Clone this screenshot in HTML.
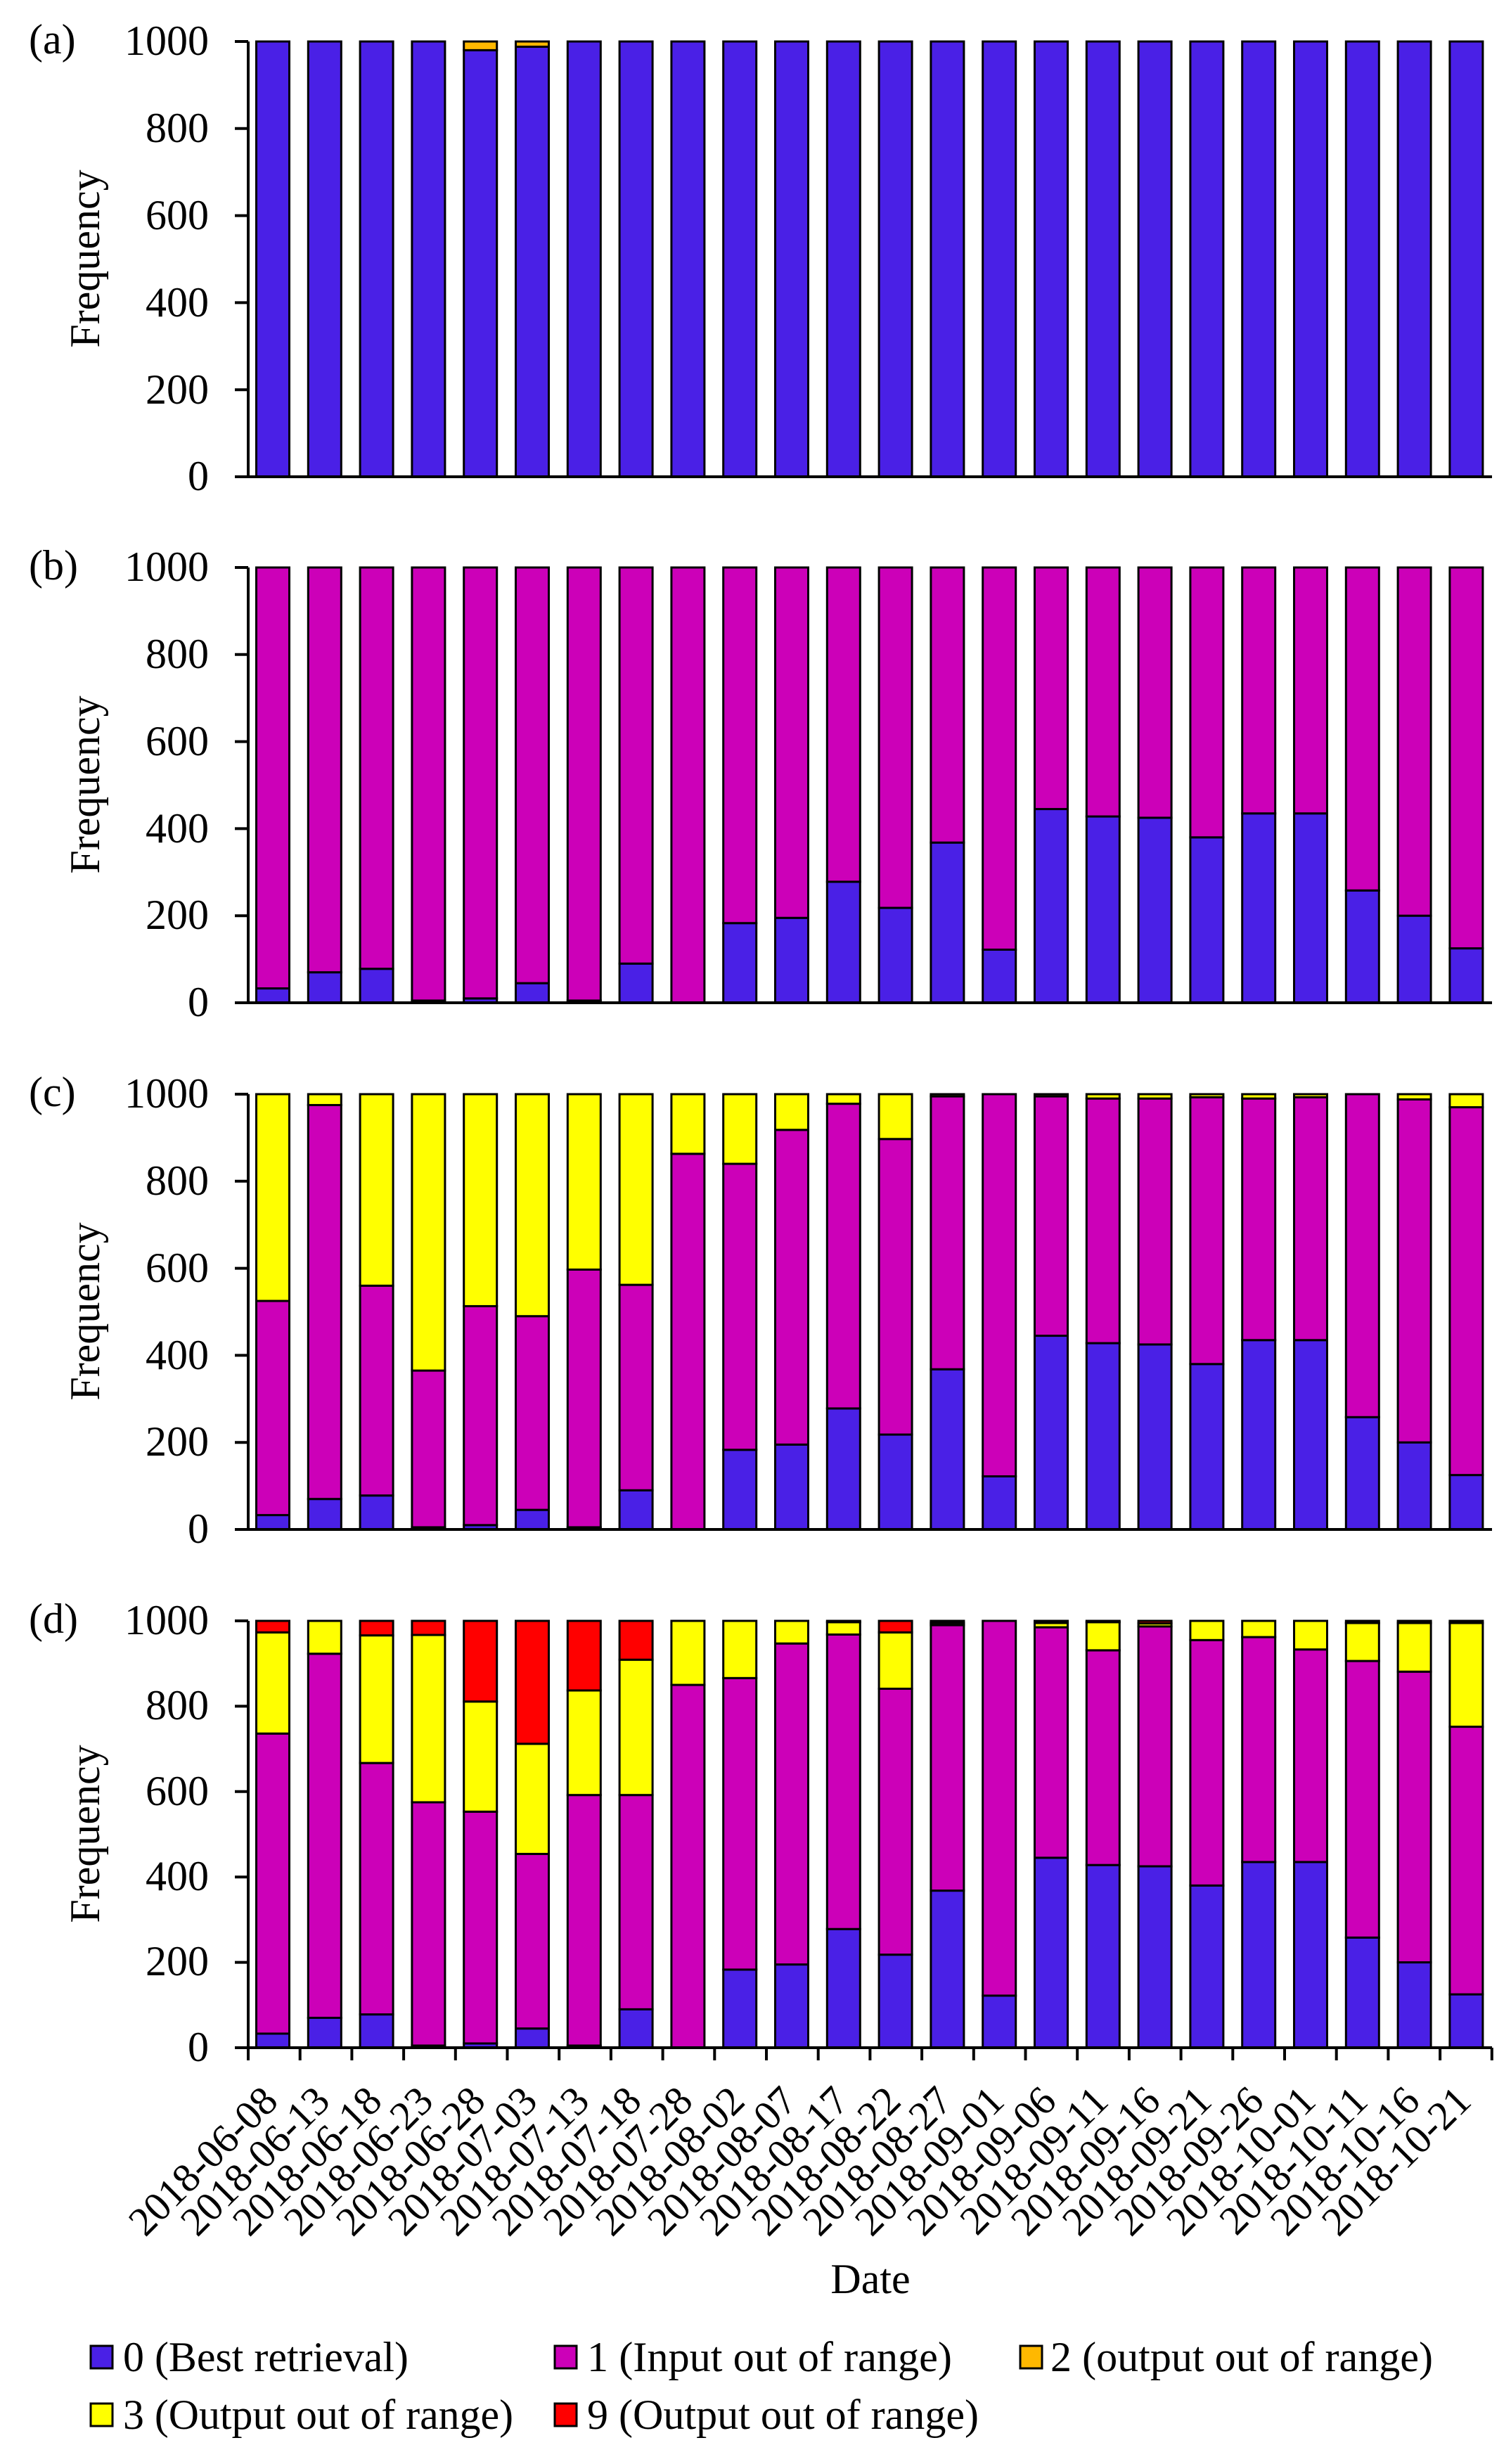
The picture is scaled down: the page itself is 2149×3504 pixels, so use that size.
<!DOCTYPE html>
<html><head><meta charset="utf-8"><style>
html,body{margin:0;padding:0;background:#fff;}
svg{display:block;}
text{font-family:"Liberation Serif",serif;fill:#000;}
</style></head><body>
<svg id="s" width="2149" height="3504" viewBox="0 0 2149 3504" xmlns="http://www.w3.org/2000/svg">
<g id="bars"></g>
<g font-size="60">
<!-- panel a -->
<text x="41" y="76" font-size="60">(a)</text>
<text x="297" y="78" text-anchor="end">1000</text>
<text x="297" y="202" text-anchor="end">800</text>
<text x="297" y="326" text-anchor="end">600</text>
<text x="297" y="450" text-anchor="end">400</text>
<text x="297" y="574" text-anchor="end">200</text>
<text x="297" y="697" text-anchor="end">0</text>
<text transform="translate(141,368) rotate(-90)" text-anchor="middle">Frequency</text>
<!-- panel b -->
<text x="41" y="824" font-size="60">(b)</text>
<text x="297" y="826" text-anchor="end">1000</text>
<text x="297" y="950" text-anchor="end">800</text>
<text x="297" y="1074" text-anchor="end">600</text>
<text x="297" y="1198" text-anchor="end">400</text>
<text x="297" y="1321" text-anchor="end">200</text>
<text x="297" y="1445" text-anchor="end">0</text>
<text transform="translate(141,1116) rotate(-90)" text-anchor="middle">Frequency</text>
<!-- panel c -->
<text x="41" y="1573" font-size="60">(c)</text>
<text x="297" y="1575" text-anchor="end">1000</text>
<text x="297" y="1699" text-anchor="end">800</text>
<text x="297" y="1823" text-anchor="end">600</text>
<text x="297" y="1947" text-anchor="end">400</text>
<text x="297" y="2070" text-anchor="end">200</text>
<text x="297" y="2194" text-anchor="end">0</text>
<text transform="translate(141,1865) rotate(-90)" text-anchor="middle">Frequency</text>
<!-- panel d -->
<text x="41" y="2322" font-size="60">(d)</text>
<text x="297" y="2324" text-anchor="end">1000</text>
<text x="297" y="2445" text-anchor="end">800</text>
<text x="297" y="2567" text-anchor="end">600</text>
<text x="297" y="2688" text-anchor="end">400</text>
<text x="297" y="2809" text-anchor="end">200</text>
<text x="297" y="2931" text-anchor="end">0</text>
<text transform="translate(141,2608) rotate(-90)" text-anchor="middle">Frequency</text>
</g>
<g font-size="58" text-anchor="end">
<text transform="translate(398,2991) rotate(-45)">2018-06-08</text>
<text transform="translate(472,2991) rotate(-45)">2018-06-13</text>
<text transform="translate(546,2991) rotate(-45)">2018-06-18</text>
<text transform="translate(619,2991) rotate(-45)">2018-06-23</text>
<text transform="translate(693,2991) rotate(-45)">2018-06-28</text>
<text transform="translate(767,2991) rotate(-45)">2018-07-03</text>
<text transform="translate(841,2991) rotate(-45)">2018-07-13</text>
<text transform="translate(915,2991) rotate(-45)">2018-07-18</text>
<text transform="translate(988,2991) rotate(-45)">2018-07-28</text>
<text transform="translate(1062,2991) rotate(-45)">2018-08-02</text>
<text transform="translate(1136,2991) rotate(-45)">2018-08-07</text>
<text transform="translate(1210,2991) rotate(-45)">2018-08-17</text>
<text transform="translate(1284,2991) rotate(-45)">2018-08-22</text>
<text transform="translate(1357,2991) rotate(-45)">2018-08-27</text>
<text transform="translate(1431,2991) rotate(-45)">2018-09-01</text>
<text transform="translate(1505,2991) rotate(-45)">2018-09-06</text>
<text transform="translate(1579,2991) rotate(-45)">2018-09-11</text>
<text transform="translate(1653,2991) rotate(-45)">2018-09-16</text>
<text transform="translate(1726,2991) rotate(-45)">2018-09-21</text>
<text transform="translate(1800,2991) rotate(-45)">2018-09-26</text>
<text transform="translate(1874,2991) rotate(-45)">2018-10-01</text>
<text transform="translate(1948,2991) rotate(-45)">2018-10-11</text>
<text transform="translate(2022,2991) rotate(-45)">2018-10-16</text>
<text transform="translate(2095,2991) rotate(-45)">2018-10-21</text>
</g>
<text x="1238" y="3261" font-size="60" text-anchor="middle">Date</text>
<g stroke="#000" stroke-width="3">
<rect x="129" y="3336" width="31" height="32" fill="#4a20e6"/>
<rect x="789" y="3336" width="31" height="32" fill="#cc00b8"/>
<rect x="1451" y="3336" width="31" height="32" fill="#ffb800"/>
<rect x="129" y="3418" width="31" height="32" fill="#ffff00"/>
<rect x="789" y="3418" width="31" height="32" fill="#ff0000"/>
</g>
<g font-size="60">
<text x="175" y="3372" textLength="406" lengthAdjust="spacingAndGlyphs">0 (Best retrieval)</text>
<text x="835" y="3372" textLength="519" lengthAdjust="spacingAndGlyphs">1 (Input out of range)</text>
<text x="1494" y="3372" textLength="544" lengthAdjust="spacingAndGlyphs">2 (output out of range)</text>
<text x="175" y="3454" textLength="555" lengthAdjust="spacingAndGlyphs">3 (Output out of range)</text>
<text x="835" y="3454" textLength="557" lengthAdjust="spacingAndGlyphs">9 (Output out of range)</text>
</g>
</svg>
<script>
(function(){
var NS="http://www.w3.org/2000/svg",g=document.getElementById("bars");
var C=["#4a20e6","#cc00b8","#ffb800","#ffff00","#ff0000"];
var blue=[33,70,78,5,10,45,5,90,0,183,195,278,218,368,122,445,428,425,380,435,435,258,200,125];
var cm=[525,975,560,365,513,490,597,562,863,840,918,978,897,995,1000,995,990,990,993,990,993,1000,988,970];
var dm=[736,923,667,575,553,454,592,592,850,866,947,968,841,990,1000,985,931,987,955,962,933,906,881,752];
var dy=[973,1000,966,967,811,712,837,909,1000,1000,1000,997,973,995,1000,995,997,994,1000,1000,1000,995,995,995];
var panels=[{t:59,b:678},{t:807,b:1426},{t:1556,b:2175},{t:2305,b:2912}];
function el(n,a){var e=document.createElementNS(NS,n);for(var k in a)e.setAttribute(k,a[k]);g.appendChild(e);return e;}
panels.forEach(function(p,pi){
 var h=p.b-p.t;
 function Y(v){return p.b-v*h/1000;}
 for(var i=0;i<24;i++){
  var x=364.5+i*73.8,w=47,segs;
  if(pi==0){var bb=1000;if(i==4)bb=980;if(i==5)bb=988;segs=[[0,0,bb],[2,bb,1000]];}
  else if(pi==1){segs=[[0,0,blue[i]],[1,blue[i],1000]];}
  else if(pi==2){segs=[[0,0,blue[i]],[1,blue[i],cm[i]],[3,cm[i],1000]];}
  else{segs=[[0,0,blue[i]],[1,blue[i],dm[i]],[3,dm[i],dy[i]],[4,dy[i],1000]];}
  segs.forEach(function(s){if(s[2]-s[1]<=0)return;
   el("rect",{x:x,y:Y(s[2]),width:w,height:(s[2]-s[1])*h/1000,fill:C[s[0]],stroke:"#000","stroke-width":3});});
 }
 el("line",{x1:353,y1:p.t,x2:353,y2:p.b,stroke:"#000","stroke-width":4});
 el("line",{x1:353,y1:p.b,x2:2122,y2:p.b,stroke:"#000","stroke-width":4});
 for(var k=0;k<=5;k++){var yy=p.t+k*h/5;el("line",{x1:334,y1:yy,x2:353,y2:yy,stroke:"#000","stroke-width":4});}
 if(pi==3){for(var k=0;k<=24;k++){var xx=353+k*73.7;el("line",{x1:xx,y1:p.b,x2:xx,y2:p.b+18,stroke:"#000","stroke-width":4});}}
});
})();
</script>
</body></html>
